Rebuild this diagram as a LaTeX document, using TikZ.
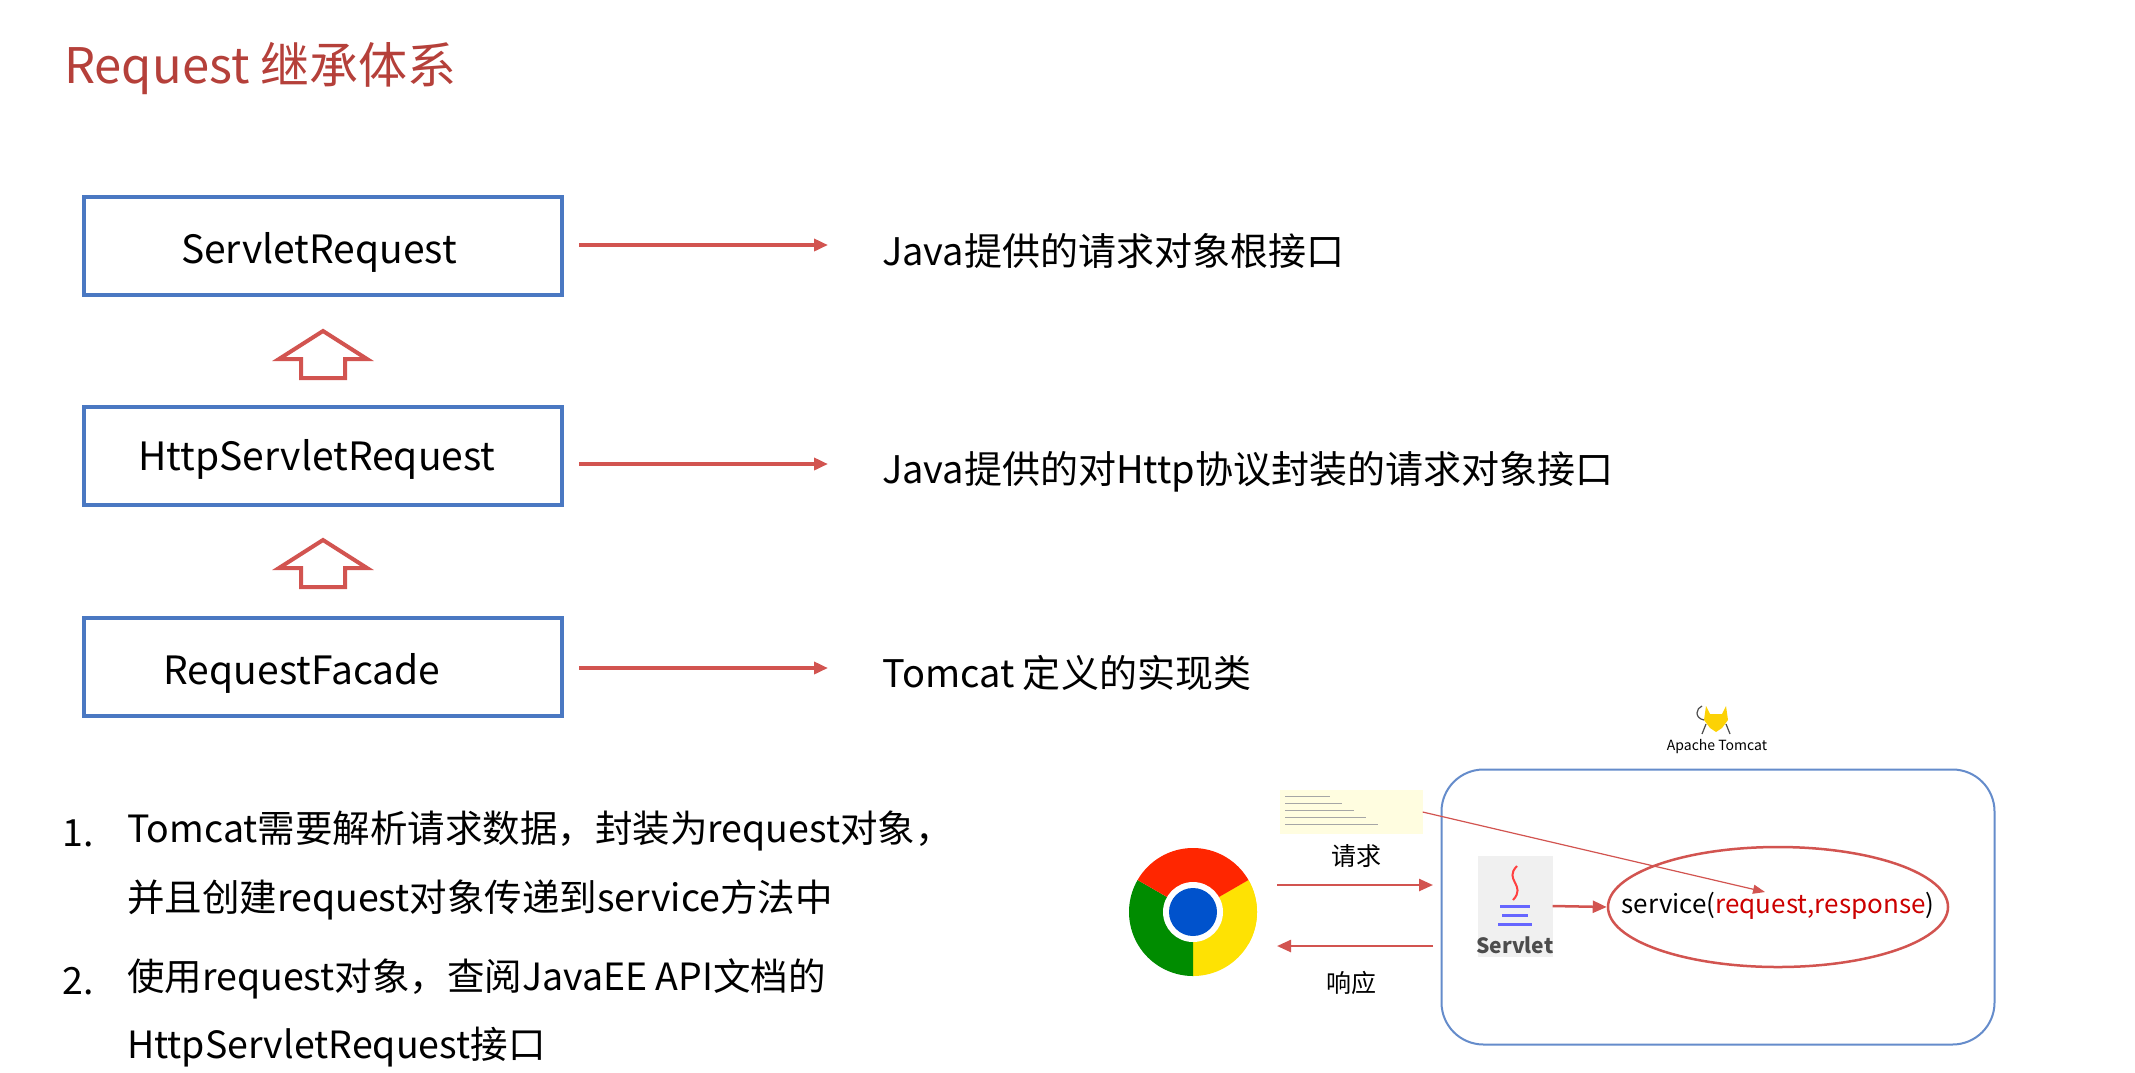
\documentclass[tikz,border=0pt]{standalone}
\usepackage{fontspec}
\setmainfont{Noto Sans CJK SC}
\usetikzlibrary{arrows.meta,shapes.geometric}
\definecolor{tred}{HTML}{B5403A}
\definecolor{ared}{HTML}{D25450}
\definecolor{bblue}{HTML}{4A78C2}
\tikzset{
 cls/.style={draw=bblue,line width=3.5pt,minimum width=478pt,minimum height=98pt},
 clstxt/.style={font=\fontsize{39}{42}\selectfont,inner sep=0pt},
 rarr/.style={draw=ared,line width=3.5pt,-{Triangle[length=14pt,width=12pt]}},
 desc/.style={anchor=west,font=\fontsize{38}{42}\selectfont,inner sep=0pt},
 item/.style={anchor=west,font=\fontsize{37.5}{42}\selectfont,inner sep=0pt},
 hollow/.style={draw=ared,line width=4pt,fill=white},
}
\begin{document}
\begin{tikzpicture}[x=1pt,y=-1pt]
\useasboundingbox[fill=white] (0,0) rectangle (2135,1072);
\node[anchor=west,text=tred,font=\fontsize{49}{52}\selectfont,inner sep=0pt] (title) at (64,68) {Request 继承体系};
\node[cls] (b1) at (323,246) {};
\node[cls] (b2) at (323,456) {};
\node[cls] (b3) at (323,667) {};
\node[clstxt] (l1) at (319,252) {ServletRequest};
\node[clstxt] (l2) at (317,459) {HttpServletRequest};
\node[clstxt] (l3) at (302,673) {RequestFacade};
\node[desc] (d1) at (882,251) {Java提供的请求对象根接口};
\node[desc] (d2) at (882,472) {Java提供的对Http协议封装的请求对象接口};
\node[desc] (d3) at (882,673) {Tomcat 定义的实现类};
\coordinate (a1s) at (579,245); \coordinate (a1e) at (828,245);
\coordinate (a2s) at (579,464); \coordinate (a2e) at (828,464);
\coordinate (a3s) at (579,668); \coordinate (a3e) at (828,668);
\draw[rarr] (a1s) -- (a1e);
\draw[rarr] (a2s) -- (a2e);
\draw[rarr] (a3s) -- (a3e);
\foreach \yy in {331,540}{
 \draw[hollow] (323,\yy) -- (367,\yy+28) -- (345,\yy+28) -- (345,\yy+47) -- (301,\yy+47) -- (301,\yy+28) -- (279,\yy+28) -- cycle;
}
\node[item] (n1) at (62,833) {1.};
\node[item] (t1) at (127,831) {Tomcat需要解析请求数据，封装为request对象，};
\node[item] (t1b) at (127,900) {并且创建request对象传递到service方法中};
\node[item] (n2) at (62,981) {2.};
\node[item] (t2) at (127,979) {使用request对象，查阅JavaEE API文档的};
\node[item] (t2b) at (127,1047) {HttpServletRequest接口};
% chrome
\coordinate (ch) at (1193,912);
\fill[yellow!85!orange] (ch) -- ++(-330:64) arc (-330:-390:64) -- ++(0,0) -- (ch) -- cycle;
\fill[yellow!85!orange] (ch) -- ++(90:64) arc (90:-30:64) -- cycle;
\fill[green!55!black] (ch) -- ++(-150:64) arc (-150:-270:64) -- cycle;
\fill[red!70!orange] (ch) -- ++(-30:64) arc (-30:-150:64) -- cycle;
\fill[white] (ch) circle (30);
\fill[blue!60!cyan!80!black] (ch) circle (24);
\node[inner sep=0pt,minimum size=128pt,circle] (chrome) at (ch) {};
% tomcat box
\node[draw=bblue!85,line width=2pt,rounded corners=42pt,minimum width=553pt,minimum height=275pt] (tc) at (1718,907) {};
\node[font=\fontsize{14}{16}\selectfont,inner sep=0pt] (tclab) at (1717,747) {Apache Tomcat};
\begin{scope}[shift={(1716,718)}]
\fill[yellow!70!orange] (-10,-12) -- (-6,-4) -- (6,-4) -- (10,-12) -- (12,2) -- (6,10) -- (0,14) -- (-6,10) -- (-12,2) -- cycle;
\draw[black!70,line width=1.2pt] (-10,6) -- (-14,16) (10,6) -- (14,16);
\draw[black!70,line width=1.2pt] (-12,2) .. controls (-22,0) and (-20,-10) .. (-14,-12);
\end{scope}
\node[inner sep=0pt] (tlogo) at (1716,718) {};
% note
\node[fill=yellow!12,minimum width=143pt,minimum height=44pt,inner sep=0pt] (note) at (1351,812) {};
\foreach \i in {0,...,4}{\draw[gray!70,line width=0.6pt] (1285,796+\i*7) -- (1330+\i*12,796+\i*7);}
% arrows
\coordinate (rqs) at (1277,885); \coordinate (rqe) at (1433,885);
\coordinate (rss) at (1433,946); \coordinate (rse) at (1277,946);
\draw[rarr,line width=2.5pt] (rqs) -- (rqe);
\draw[rarr,line width=2.5pt] (rss) -- (rse);
\node[font=\fontsize{25}{28}\selectfont] (qq) at (1356,856) {请求};
\node[font=\fontsize{25}{28}\selectfont] (xy) at (1351,983) {响应};
% servlet
\node[fill=gray!12,minimum width=75pt,minimum height=101pt,inner sep=0pt] (sv) at (1515,906) {};
\node[font=\bfseries\fontsize{21}{22}\selectfont,text=gray!60!black,inner sep=0pt] (svt) at (1515,945) {Servlet};
\draw[red!75,line width=2pt] (1517,866) .. controls (1503,880) and (1527,885) .. (1513,900);
\draw[blue!60,line width=3pt] (1500,906) -- (1530,906) (1502,915) -- (1528,915) (1498,924) -- (1532,924);
\node[draw=ared,line width=2.5pt,ellipse,minimum width=340pt,minimum height=120pt] (el) at (1778,907) {};
\node[font=\fontsize{26}{28}\selectfont,inner sep=0pt] (svc) at (1778,906) {service(\textcolor{red!80!black}{request,response})};
\draw[rarr,line width=2.5pt] (sv.east) -- (el.west);
\coordinate (pt) at (1765,892);
\draw[draw=ared,line width=1.2pt,-{Triangle[length=12pt,width=9pt]}] (note.east) -- (pt);
\end{tikzpicture}
\end{document}
